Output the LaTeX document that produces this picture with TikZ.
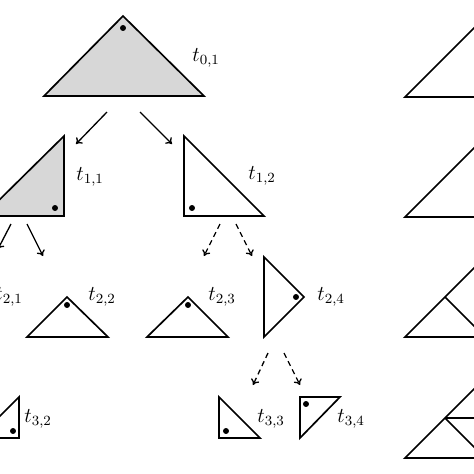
\documentclass[tikz,border=0pt]{standalone}
\usetikzlibrary{arrows.meta}
\definecolor{tgray}{RGB}{215,215,215}
\begin{document}
\begin{tikzpicture}[x=0.02cm,y=-0.02cm,
  tri/.style={line width=0.95pt,line join=miter},
  filled/.style={tri,fill=tgray},
  pt/.style={fill=black},
  lbl/.style={anchor=base west,inner sep=0pt,font=\large},
  arr/.style={line width=0.75pt,-{To[length=3.2pt,width=5pt]}},
  darr/.style={arr,dash pattern=on 3pt off 2.2pt}]
\useasboundingbox (0,0) rectangle (474,474);
\clip (0,0) rectangle (474,474);
% level 0
\draw[filled] (44,96) -- (123,16) -- (204,96) -- cycle;
\fill[pt] (123,28) circle[radius=1.7pt];
\node[lbl] (l01) at (192,61) {$t_{0,1}$};
% level 1
\draw[filled] (-17,216) -- (64,136) -- (64,216) -- cycle;
\fill[pt] (55,208) circle[radius=1.7pt];
\node[lbl] (l11) at (76,180) {$t_{1,1}$};
\draw[tri] (184,136) -- (184,216) -- (264,216) -- cycle;
\fill[pt] (192,208) circle[radius=1.7pt];
\node[lbl] (l12) at (248,179) {$t_{1,2}$};
% level 2
\node[lbl] (l21) at (-5,300) {$t_{2,1}$};
\draw[tri] (27,337) -- (67,297) -- (108,337) -- cycle;
\fill[pt] (67,305) circle[radius=1.7pt];
\node[lbl] (l22) at (88,300) {$t_{2,2}$};
\draw[tri] (147,337) -- (188,297) -- (228,337) -- cycle;
\fill[pt] (188,305) circle[radius=1.7pt];
\node[lbl] (l23) at (208,300) {$t_{2,3}$};
\draw[tri] (264,257) -- (304,297) -- (264,337) -- cycle;
\fill[pt] (296,297) circle[radius=1.7pt];
\node[lbl] (l24) at (317,300) {$t_{2,4}$};
% level 3
\draw[tri] (-22,438) -- (19,397) -- (19,438) -- cycle;
\fill[pt] (13,431) circle[radius=1.7pt];
\node[lbl] (l32) at (24,422) {$t_{3,2}$};
\draw[tri] (219,397) -- (219,438) -- (260,438) -- cycle;
\fill[pt] (226,431) circle[radius=1.7pt];
\node[lbl] (l33) at (257,422) {$t_{3,3}$};
\draw[tri] (300,438) -- (300,397) -- (340,397) -- cycle;
\fill[pt] (306,404) circle[radius=1.7pt];
\node[lbl] (l34) at (337,422) {$t_{3,4}$};
% arrow end points
\coordinate (a1s) at (107,112); \coordinate (a1e) at (76,144);
\coordinate (a2s) at (140,112); \coordinate (a2e) at (172,144);
\coordinate (b1s) at (11,224);  \coordinate (b1e) at (-2,249);
\coordinate (b2s) at (27,224);  \coordinate (b2e) at (43,256);
\coordinate (c1s) at (220,224); \coordinate (c1e) at (204,256);
\coordinate (c2s) at (236,224); \coordinate (c2e) at (252,256);
\coordinate (d1s) at (268,353); \coordinate (d1e) at (253,385);
\coordinate (d2s) at (284,353); \coordinate (d2e) at (300,385);
\draw[arr] (a1s) -- (a1e);
\draw[arr] (a2s) -- (a2e);
\draw[arr] (b1s) -- (b1e);
\draw[arr] (b2s) -- (b2e);
\draw[darr] (c1s) -- (c1e);
\draw[darr] (c2s) -- (c2e);
\draw[darr] (d1s) -- (d1e);
\draw[darr] (d2s) -- (d2e);
% right column
\draw[tri] (405,97) -- (485,17) -- (565,97) -- cycle;
\draw[tri] (405,217) -- (485,137) -- (565,217) -- cycle;
\draw[tri] (405,337) -- (485,257) -- (565,337) -- cycle;
\draw[tri] (445,297) -- (485,337);
\draw[tri] (405,458) -- (485,378) -- (565,458) -- cycle;
\draw[tri] (445,418) -- (485,458);
\draw[tri] (445,418) -- (525,418);
\end{tikzpicture}
\end{document}
